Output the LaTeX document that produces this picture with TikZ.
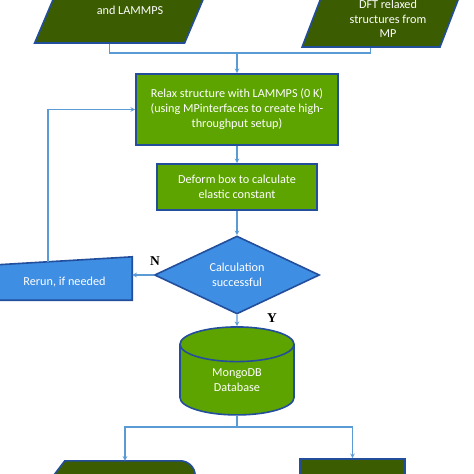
\documentclass[tikz,border=0pt]{standalone}
\usepackage{fontspec}
\setmainfont{Carlito}
\newfontfamily\ynfont{Liberation Serif}
\usetikzlibrary{shapes.geometric, positioning, backgrounds}

\definecolor{darkgreen}{HTML}{3B5C00}
\definecolor{lightgreen}{HTML}{5DA400}
\definecolor{midblue}{HTML}{3E8EE4}
\definecolor{edgeblue}{HTML}{234E9B}
\definecolor{flowblue}{HTML}{5B9BD5}

\begin{document}
\begin{tikzpicture}[
    x=1pt, y=-1pt,
    on grid,
    >=stealth,
    every node/.style={inner sep=0pt},
    txt/.style={font=\fontsize{12.2}{14.5}\selectfont, text=white, align=center},
    box/.style={draw=edgeblue, line width=1.6pt, txt},
    process/.style={box, rectangle, fill=lightgreen},
    data/.style={box, trapezium, fill=darkgreen},
    decision/.style={box, diamond, fill=midblue},
    store/.style={box, cylinder, shape border rotate=90, aspect=0.7, fill=lightgreen},
    outline/.style={draw=edgeblue, line width=1.6pt},
    flow/.style={draw=flowblue, line width=1.1pt},
    yn/.style={font=\ynfont\bfseries\fontsize{13.5}{13.5}\selectfont, text=black}
]
    \useasboundingbox (0,0) rectangle (474,474);
    \clip (0,0) rectangle (474,474);

    % Inputs
    \node[data, trapezium left angle=67, trapezium right angle=113,
          inner xsep=54.6pt, inner ysep=48pt,
          label={[txt, yshift=-15pt]center:and LAMMPS}] (inA) at (130,-5) {};
    \node[data, trapezium left angle=69, trapezium right angle=111,
          inner xsep=58pt, inner ysep=28.5pt,
          label={[txt, xshift=6pt, yshift=-0.5pt]center:DFT relaxed\\structures from\\MP}] (inB) at (382,18.5) {};

    % Main column
    \node[process, minimum width=202pt, minimum height=71pt,
          font=\fontsize{12.2}{15}\selectfont] (relax) at (237,109.5)
        {Relax structure with LAMMPS (0 K)\\(using MPinterfaces to create high-\\throughput setup)};
    \node[process, minimum width=160pt, minimum height=46pt, below=77.5pt of relax] (deform)
        {Deform box to calculate\\elastic constant};
    \node[decision, minimum width=165pt, minimum height=74pt, below=88pt of deform] (check)
        {Calculation\\successful};
    \node[store, minimum width=114pt, minimum height=88pt, below=105pt of check] (db)
        {MongoDB\\Database};

    % Rerun branch
    \node[txt, minimum width=135pt, minimum height=35pt] (rerun) at (64.5,282.5) {Rerun, if needed};

    % Outputs
    \node[minimum width=140pt, minimum height=60pt] (outL) at (125,491) {};
    \node[box, rectangle, fill=darkgreen, minimum width=105pt, minimum height=42pt] (outR) at (352.5,480) {};

    \begin{scope}[on background layer]
        \filldraw[outline, fill=midblue] (rerun.south west) -- (rerun.south east)
            -- ([yshift=8pt]rerun.north east) -- (rerun.north west) -- cycle;
        \filldraw[outline, fill=darkgreen] ([xshift=-13pt]outL.west) -- ([xshift=10pt]outL.north west)
            [rounded corners=15pt] -- (outL.north east) -- (outL.south east) [sharp corners]
            -- ([xshift=-13pt]outL.west) -- cycle;
    \end{scope}

    % Connectors
    \coordinate (topbus) at (237,53);
    \coordinate (botbus) at (237,427);
    \draw[flow] (inA.bottom side) |- (topbus) -| (inB.bottom side);
    \draw[flow,->] (topbus) -- (relax.north);
    \draw[flow,->] (relax) -- (deform);
    \draw[flow,->] (deform) -- (check);
    \draw[flow,->] (check) -- (db);
    \draw[flow,->] (check.west) -- (check.west -| rerun.east);
    \draw[flow,->] ([xshift=-16.5pt,yshift=3pt]rerun.north) |- (relax.west);
    \draw[flow] (db.south) -- (botbus);
    \draw[flow,->] (botbus) -| (outL.north);
    \draw[flow,->] (botbus) -| (outR.north);

    % Branch labels
    \node[yn] (lblN) at (155,261) {N};
    \node[yn] (lblY) at (272,318) {Y};
\end{tikzpicture}
\end{document}
